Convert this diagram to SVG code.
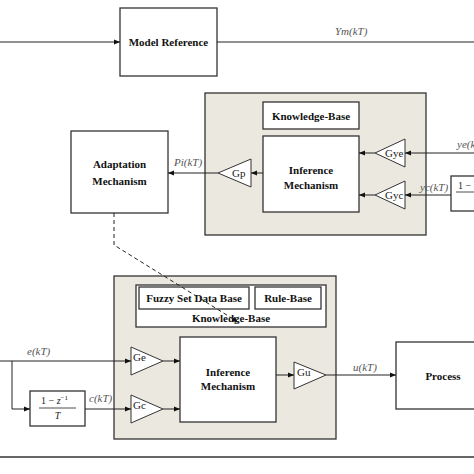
<svg xmlns="http://www.w3.org/2000/svg" width="474" height="474" viewBox="0 0 474 474">
<defs>
<marker id="ar" viewBox="0 0 10 10" refX="10" refY="5" markerWidth="6" markerHeight="6" orient="auto" markerUnits="userSpaceOnUse">
<path d="M0,1 L10,5 L0,9 z" fill="#111"/>
</marker>
<style>
.box{fill:#fff;stroke:#333;stroke-width:1.3}
.shade{fill:#ebe8df;stroke:#333;stroke-width:1.3}
.tri{fill:#fff;stroke:#333;stroke-width:1}
.ln{fill:none;stroke:#222;stroke-width:1}
.lbl{font-family:"Liberation Serif",serif;font-weight:bold;font-size:11px;fill:#111}
.g{font-family:"Liberation Serif",serif;font-size:11px;fill:#222}
.sig{font-family:"Liberation Serif",serif;font-style:italic;font-size:11px;fill:#555}
.m{font-family:"Liberation Serif",serif;font-size:10px;fill:#222}
</style>
</defs>
<rect width="474" height="474" fill="#fff"/>

<g id="upper-controller">
<rect class="shade" x="205" y="93" width="221" height="142"/>
</g>
<g id="lower-controller">
<rect class="shade" x="114" y="276" width="222" height="163"/>
</g>

<g id="model-reference">
<rect class="box" x="120" y="8" width="97" height="68"/>
<text class="lbl" x="168.5" y="46" text-anchor="middle">Model Reference</text>
</g>

<g id="adaptation-mechanism">
<rect class="box" x="71" y="131" width="97" height="82"/>
<text class="lbl" x="119.5" y="168" text-anchor="middle">Adaptation</text>
<text class="lbl" x="119.5" y="185" text-anchor="middle">Mechanism</text>
</g>

<g id="kb-top">
<rect class="box" x="263" y="102" width="96" height="27"/>
<text class="lbl" x="311" y="120" text-anchor="middle">Knowledge-Base</text>
</g>
<g id="inference-top">
<rect class="box" x="263" y="136" width="96" height="76"/>
<text class="lbl" x="311" y="174" text-anchor="middle">Inference</text>
<text class="lbl" x="311" y="189" text-anchor="middle">Mechanism</text>
</g>
<g id="gye">
<polygon class="tri" points="375,153 405,139 405,167"/>
<text class="g" x="385" y="157">Gye</text>
</g>
<g id="gyc">
<polygon class="tri" points="375,195 405,181 405,209"/>
<text class="g" x="385" y="199">Gyc</text>
</g>
<g id="gp">
<polygon class="tri" points="218,173 251,159 251,187"/>
<text class="g" x="232" y="177">Gp</text>
</g>
<g id="diff-top">
<rect class="box" x="451" y="176" width="30" height="35"/>
<text class="m" x="458" y="189">1 −</text>
<line x1="456" y1="192" x2="478" y2="192" stroke="#222" stroke-width="0.8"/>
</g>

<g id="kb-bottom">
<rect class="box" x="136" y="285" width="190" height="42"/>
<rect class="box" x="139" y="287" width="110" height="22"/>
<text class="lbl" x="194" y="302" text-anchor="middle">Fuzzy Set Data Base</text>
<rect class="box" x="255" y="287" width="66" height="22"/>
<text class="lbl" x="288" y="302" text-anchor="middle">Rule-Base</text>
<text class="lbl" x="231" y="322" text-anchor="middle">Knowledge-Base</text>
</g>
<g id="inference-bottom">
<rect class="box" x="180" y="337" width="96" height="85"/>
<text class="lbl" x="228" y="376" text-anchor="middle">Inference</text>
<text class="lbl" x="228" y="390" text-anchor="middle">Mechanism</text>
</g>
<g id="ge">
<polygon class="tri" points="131,347 163,361 131,375"/>
<text class="g" x="133" y="361">Ge</text>
</g>
<g id="gc">
<polygon class="tri" points="131,395 163,409 131,423"/>
<text class="g" x="133" y="409">Gc</text>
</g>
<g id="gu">
<polygon class="tri" points="294,362 326,375 294,389"/>
<text class="g" x="297" y="376">Gu</text>
</g>
<g id="diff-bottom">
<rect class="box" x="30" y="391" width="55" height="35"/>
<text class="m" x="41" y="404">1 − <tspan font-style="italic">z</tspan><tspan font-size="7" dy="-4">−1</tspan></text>
<line x1="39" y1="408" x2="76" y2="408" stroke="#222" stroke-width="0.8"/>
<text class="m" x="57.5" y="419" text-anchor="middle" font-style="italic">T</text>
</g>
<g id="process">
<rect class="box" x="396" y="342" width="90" height="67"/>
<text class="lbl" x="443" y="380" text-anchor="middle">Process</text>
</g>

<g id="connectors">
<line class="ln" x1="0" y1="42" x2="120" y2="42" marker-end="url(#ar)"/>
<line class="ln" x1="217" y1="42" x2="474" y2="42"/>
<line class="ln" x1="474" y1="153" x2="405" y2="153" marker-end="url(#ar)"/>
<line class="ln" x1="451" y1="195" x2="405" y2="195" marker-end="url(#ar)"/>
<line class="ln" x1="375" y1="153" x2="359" y2="153" marker-end="url(#ar)"/>
<line class="ln" x1="375" y1="195" x2="359" y2="195" marker-end="url(#ar)"/>
<line class="ln" x1="263" y1="173" x2="251" y2="173" marker-end="url(#ar)"/>
<line class="ln" x1="218" y1="173" x2="168" y2="173" marker-end="url(#ar)"/>
<polyline class="ln" points="114,213 114,245 238,322" stroke-dasharray="4,3" marker-end="url(#ar)"/>
<line class="ln" x1="0" y1="361" x2="131" y2="361" marker-end="url(#ar)"/>
<polyline class="ln" points="12,361 12,409 30,409" marker-end="url(#ar)"/>
<line class="ln" x1="85" y1="409" x2="131" y2="409" marker-end="url(#ar)"/>
<line class="ln" x1="163" y1="361" x2="180" y2="361" marker-end="url(#ar)"/>
<line class="ln" x1="163" y1="409" x2="180" y2="409" marker-end="url(#ar)"/>
<line class="ln" x1="276" y1="375" x2="294" y2="375" marker-end="url(#ar)"/>
<line class="ln" x1="326" y1="375" x2="396" y2="375" marker-end="url(#ar)"/>
<line x1="0" y1="457" x2="474" y2="457" stroke="#666" stroke-width="2"/>
</g>

<g id="signal-labels">
<text class="sig" x="335" y="35">Ym(kT)</text>
<text class="sig" x="174" y="166">Pi(kT)</text>
<text class="sig" x="457" y="148">ye(kT)</text>
<text class="sig" x="420" y="191">yc(kT)</text>
<text class="sig" x="27" y="355">e(kT)</text>
<text class="sig" x="89" y="402">c(kT)</text>
<text class="sig" x="353" y="371">u(kT)</text>
</g>
</svg>
